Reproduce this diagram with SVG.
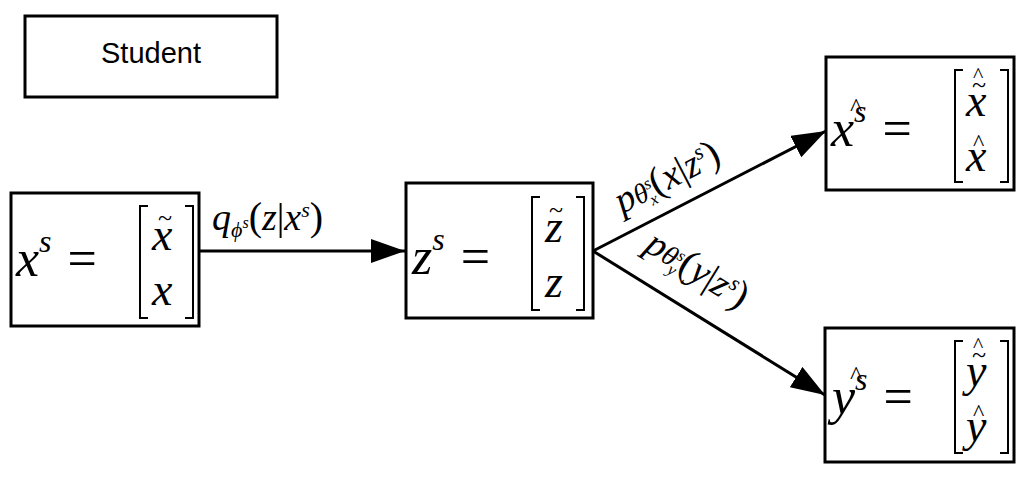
<svg xmlns="http://www.w3.org/2000/svg" width="1026" height="478" viewBox="0 0 1026 478">
<style>
.box{fill:#fff;stroke:#000;stroke-width:3}
.m{font-family:"Liberation Serif",serif;font-style:italic;fill:#000}
.r{font-family:"Liberation Serif",serif;font-style:normal;fill:#000}
.br{fill:none;stroke:#000;stroke-width:2}
.ln{stroke:#000;stroke-width:3;fill:none}
</style>
<defs>
<marker id="a" viewBox="0 0 10 8" refX="10" refY="4" markerWidth="34" markerHeight="24" markerUnits="userSpaceOnUse" orient="auto" preserveAspectRatio="none"><path d="M0,0L10,4L0,8z" fill="#000"/></marker></defs>
<g id="student"><rect class="box" x="25" y="16" width="252" height="81"/><text x="151" y="63" font-family="Liberation Sans,Arial,sans-serif" font-size="29" text-anchor="middle">Student</text></g>
<g id="connectors">
<line class="ln" x1="199" y1="251" x2="405" y2="251" marker-end="url(#a)"/>
<line class="ln" x1="593" y1="251" x2="826" y2="131" marker-end="url(#a)"/>
<line class="ln" x1="593" y1="251" x2="825" y2="395" marker-end="url(#a)"/>
<text class="m" x="212" y="230" font-size="38">q<tspan font-size="22" dy="7">ϕ</tspan><tspan font-size="16" dy="-9">s</tspan><tspan class="r" dy="2" font-size="40">(</tspan>z<tspan class="r">|</tspan>x<tspan font-size="22" dy="-13">s</tspan><tspan class="r" dy="13" font-size="40">)</tspan></text>
<g transform="translate(622,214) rotate(-27.3)"><text class="m" font-size="38">p<tspan font-size="28">θ</tspan><tspan font-size="17" dy="-10">s</tspan><tspan font-size="17" dx="-8" dy="17">x</tspan><tspan class="r" dy="-7" font-size="40">(</tspan>x<tspan class="r">|</tspan>z<tspan font-size="22" dy="-13">s</tspan><tspan class="r" dy="13" font-size="40">)</tspan></text></g>
<g transform="translate(643,250) rotate(31.8)"><text class="m" font-size="38">p<tspan font-size="28">θ</tspan><tspan font-size="17" dy="-10">s</tspan><tspan font-size="17" dx="-8" dy="17">y</tspan><tspan class="r" dy="-7" font-size="40">(</tspan>y<tspan class="r">|</tspan>z<tspan font-size="22" dy="-13">s</tspan><tspan class="r" dy="13" font-size="40">)</tspan></text></g>
</g>
<g id="xs"><rect class="box" x="11" y="193" width="188" height="133"/>
<text class="m" x="16" y="276" font-size="52">x<tspan font-size="32" dy="-24">s</tspan><tspan class="r" dx="16" dy="24">=</tspan></text>
<path class="br" d="M148,206H140V318H148M185,206H193V318H185"/>
<text class="m" x="152" y="250" font-size="46">x</text><text class="r" x="158" y="226" font-size="26">~</text>
<text class="m" x="152" y="305" font-size="46">x</text></g>
<g id="zs"><rect class="box" x="406" y="183" width="187" height="135"/>
<text class="m" x="412" y="274" font-size="52">z<tspan font-size="32" dy="-24">s</tspan><tspan class="r" dx="16" dy="24">=</tspan></text>
<path class="br" d="M540,197H532V310H540M576,197H584V310H576"/>
<text class="m" x="545" y="242" font-size="46">z</text><text class="r" x="549" y="218" font-size="26">~</text>
<text class="m" x="545" y="297" font-size="46">z</text></g>
<g id="xhat"><rect class="box" x="826" y="57" width="188" height="133"/>
<text class="m" x="831" y="146" font-size="52">x<tspan font-size="32" dy="-24">s</tspan><tspan class="r" dx="16" dy="24">=</tspan></text>
<text class="r" x="850" y="116" font-size="26">^</text>
<path class="br" d="M963,70H955V182H963M1000,70H1008V182H1000"/>
<text class="m" x="966" y="116" font-size="46">x</text><text class="r" x="972" y="93" font-size="26">~</text><text class="r" x="973" y="82" font-size="22">^</text>
<text class="m" x="966" y="171" font-size="46">x</text><text class="r" x="973" y="150" font-size="24">^</text></g>
<g id="yhat"><rect class="box" x="825" y="328" width="189" height="134"/>
<text class="m" x="832" y="414" font-size="52">y<tspan font-size="32" dy="-24">s</tspan><tspan class="r" dx="16" dy="24">=</tspan></text>
<text class="r" x="850" y="384" font-size="26">^</text>
<path class="br" d="M963,341H955V453H963M1000,341H1008V453H1000"/>
<text class="m" x="966" y="386" font-size="46">y</text><text class="r" x="972" y="363" font-size="26">~</text><text class="r" x="973" y="352" font-size="22">^</text>
<text class="m" x="966" y="441" font-size="46">y</text><text class="r" x="973" y="420" font-size="24">^</text></g>
</svg>
